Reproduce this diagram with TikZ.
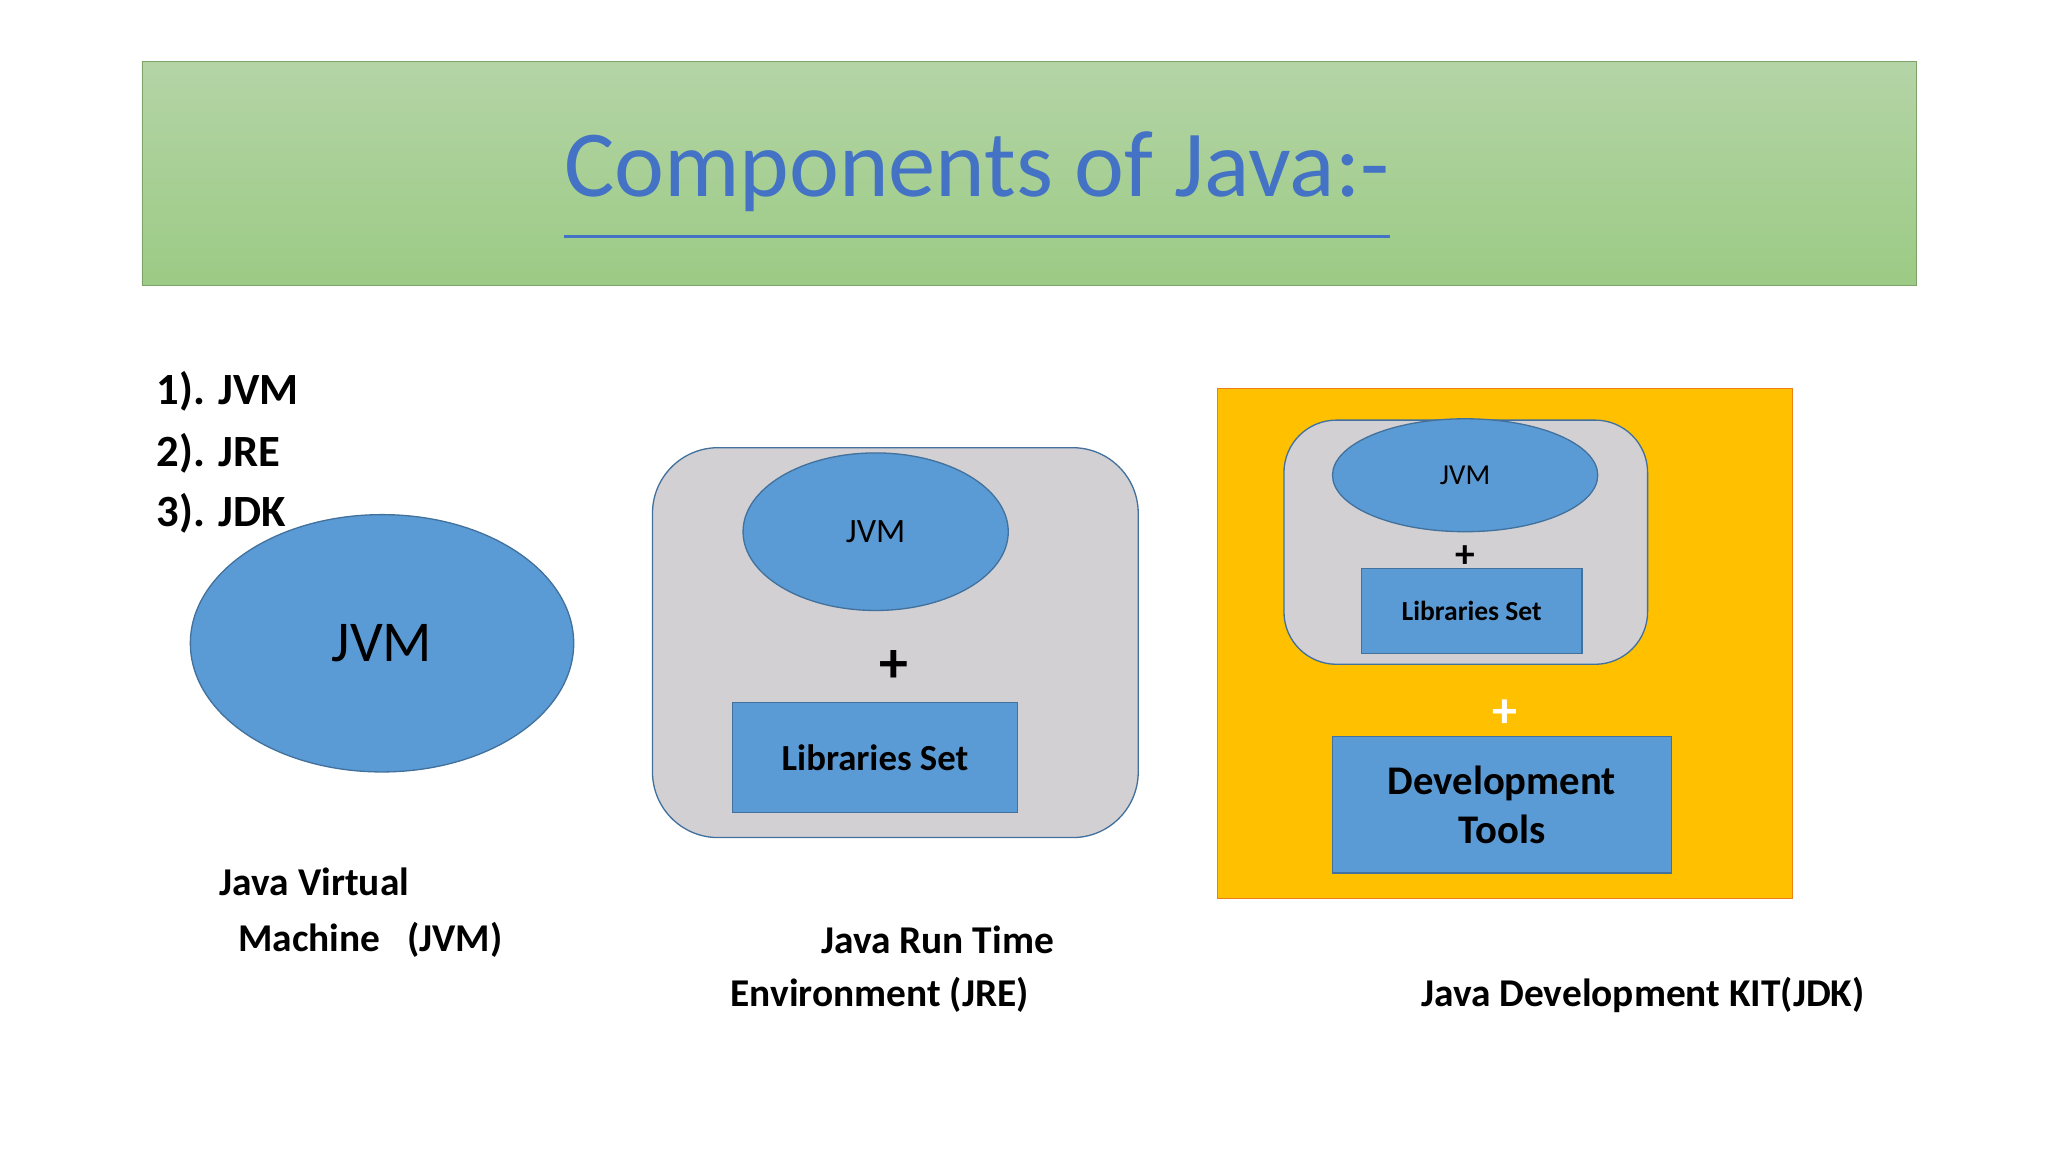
\documentclass[tikz,border=0pt]{standalone}
\usepackage{fontspec}
\setmainfont{Carlito}
\usetikzlibrary{positioning,shapes.geometric}
\definecolor{jblue}{HTML}{5B9BD5}
\definecolor{jedge}{HTML}{41719C}
\definecolor{jgray}{HTML}{D2D0D3}
\definecolor{jorange}{HTML}{FFC000}
\definecolor{jtitle}{HTML}{4472C4}
\definecolor{gtop}{HTML}{B4D4A6}
\definecolor{gbot}{HTML}{9CCB85}
\tikzset{
  fsz/.style={font=\fontsize{#1}{1.2\dimexpr#1pt\relax}\selectfont},
  fbz/.style={font=\bfseries\fontsize{#1}{1.2\dimexpr#1pt\relax}\selectfont},
  blob/.style={ellipse, draw=jedge, fill=jblue, line width=1pt, inner sep=0pt},
  libbox/.style={draw=jedge, fill=jblue, line width=1pt, inner sep=0pt},
  lbl/.style={anchor=west},
}
\begin{document}
\begin{tikzpicture}[x=1pt,y=-1pt]
\useasboundingbox[fill=white] (0,0) rectangle (1560,877.5);
% Title banner
\shade[top color=gtop, bottom color=gbot, draw=gbot!80!black] (108,47) rectangle (1460,217);
\node[text=jtitle, fsz=72, inner sep=0pt] (title) at (744,131) {Components of Java:-};
\draw[jtitle, line width=2.5pt] (title.base west) ++(0,30) -- ([yshift=-30]title.base east);
% list
\node[lbl, fbz=34] (l1) at (116,298) {1). JVM};
\node[lbl, fbz=34] (l2) at (116,345) {2). JRE};
\node[lbl, fbz=34] (l3) at (116,391) {3). JDK};
% JVM
\node[blob, minimum width=292, minimum height=196, fsz=44] (jvm) at (291,490) {JVM};
% JRE
\draw[fill=jgray, draw=jedge, line width=1pt, rounded corners=50] (497,341) rectangle (867,638);
\node[blob, minimum width=202, minimum height=120, fsz=26] (jrejvm) at (667,405) {JVM};
\node[fbz=44] (jreplus) at (681,508) {+};
\node[libbox, minimum width=217, minimum height=84, fbz=28] (jrelib) at (666.5,577) {Libraries Set};
% JDK
\draw[fill=jorange, draw=orange!70!brown] (927,296) rectangle (1365,684);
\draw[fill=jgray, draw=jedge, line width=1pt, rounded corners=40] (978,320) rectangle (1255,506);
\node[blob, minimum width=202, minimum height=86, fsz=22] (jdkjvm) at (1116,362) {JVM};
\node[fbz=30] (jdkplus) at (1116,424) {+};
\node[libbox, minimum width=168, minimum height=65, fbz=21] (jdklib) at (1121,465.5) {Libraries Set};
\node[fbz=38, text=white] (devplus) at (1146,544) {+};
\node[libbox, minimum width=258, minimum height=104, fbz=31, align=center] (devtools) at (1144,613) {Development\\Tools};
% captions
\node[lbl, fbz=30] (c1) at (164,672) {Java Virtual};
\node[lbl, fbz=30] (c2) at (178,716) {Machine \ \ (JVM)};
\node[lbl, fbz=30] (c3) at (622,716) {Java Run Time};
\node[lbl, fbz=30] (c4) at (553,758) {Environment (JRE)};
\node[lbl, fbz=30] (c5) at (1079,758) {Java Development KIT(JDK)};
\end{tikzpicture}
\end{document}
